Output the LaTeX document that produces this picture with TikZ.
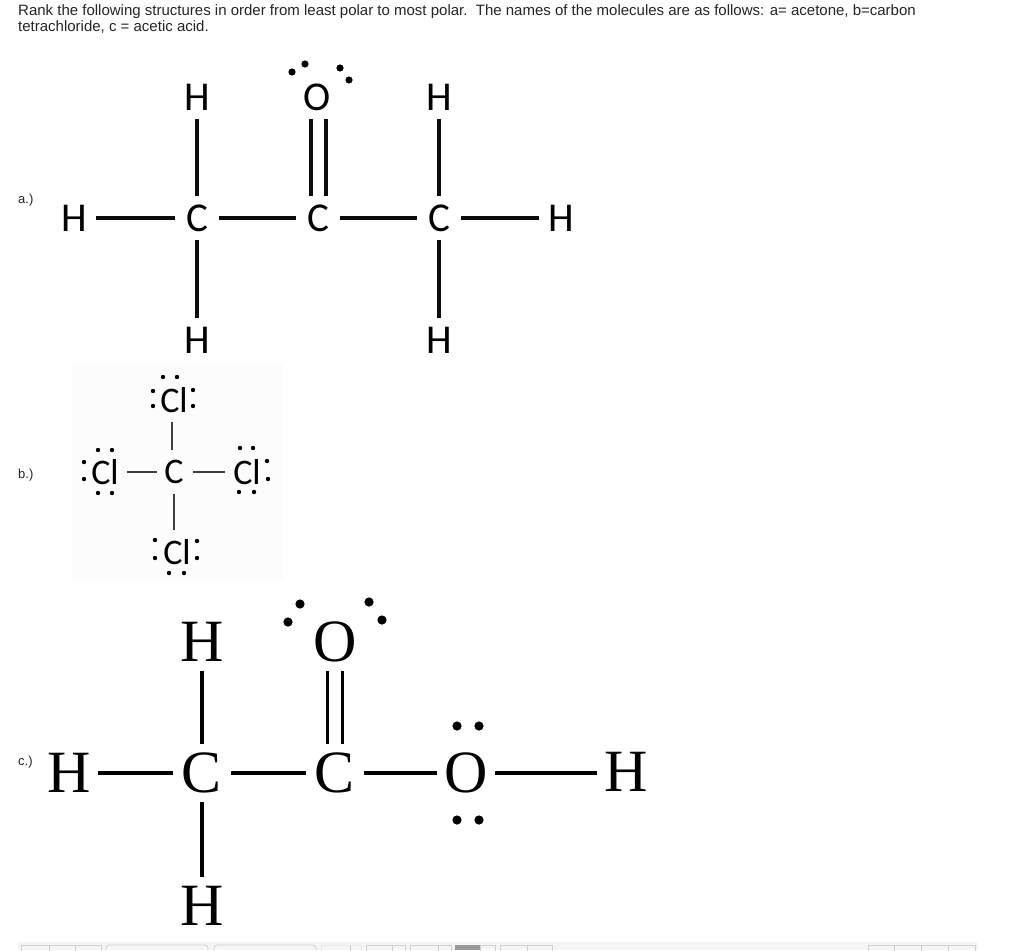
\documentclass[tikz,border=0pt]{standalone}
\usepackage{fontspec}
\setmainfont{Liberation Sans}
\newfontfamily\molA{Carlito}
\newfontfamily\molC{Liberation Serif}
\newcommand{\edot}[3][3.6]{\fill (#2,#3) circle (#1pt);}
\newcommand{\tbtn}[4][]{\draw[tbline,#1] (#2,951) |- (#3,945) -- (#3,951);\foreach \d in {#4}{\draw[tbline] (\d,945) -- (\d,951);}}
\tikzset{
  qtext/.style={anchor=base west,inner sep=0pt,font=\fontsize{15}{17}\selectfont,text=black!85},
  partlabel/.style={anchor=west,inner sep=0pt,font=\fontsize{13}{15}\selectfont,text=black!85},
  atomA/.style={rectangle,minimum size=44pt,inner sep=0pt,font=\molA\fontsize{41}{44}\selectfont},
  atomB/.style={rectangle,minimum size=44pt,inner sep=0pt,font=\molA\fontsize{36}{39}\selectfont},
  atomC/.style={rectangle,minimum size=58pt,inner sep=0pt,font=\molC\fontsize{60}{62}\selectfont},
  bondA/.style={line width=3.6pt,black!95},
  bondB/.style={line width=1.6pt,black!75},
  bondC/.style={line width=3.8pt,black},
  tbline/.style={draw=black!18,line width=0.9pt}
}
\begin{document}
\begin{tikzpicture}[x=1pt,y=-1pt]
\useasboundingbox (0,0) rectangle (1024,950);
\fill[white] (0,0) rectangle (1024,950);
\node[qtext] (q1) at (18,16) {Rank the following structures in order from least polar to most polar.\ \ The names of the molecules are as follows: a= acetone, b=carbon};
\node[qtext] (q2) at (18,32) {tetrachloride, c = acetic acid.};
\node[partlabel] (la) at (18,200) {a.)};
\node[partlabel] (lb) at (18,475) {b.)};
\node[partlabel] (lc) at (18,762) {c.)};
% molecule a
\node[atomA] (ah1) at (197,97) {H};
\node[atomA] (ao) at (317,97) {O};
\node[atomA] (ah2) at (439,97) {H};
\node[atomA] (ahl) at (74,218) {H};
\node[atomA] (ac1) at (197,218) {C};
\node[atomA] (ac2) at (318,218) {C};
\node[atomA] (ac3) at (439,218) {C};
\node[atomA] (ahr) at (561,218) {H};
\node[atomA] (ah3) at (197,340) {H};
\node[atomA] (ah4) at (439,340) {H};
\draw[bondA] (ah1) -- (ac1);
\draw[bondA] (ah2) -- (ac3);
\draw[bondA] (ac1) -- (ah3);
\draw[bondA] (ac3) -- (ah4);
\draw[bondA] (ahl) -- (ac1);
\draw[bondA] (ac1) -- (ac2);
\draw[bondA] (ac2) -- (ac3);
\draw[bondA] (ac3) -- (ahr);
\draw[bondA] ([xshift=-6pt]ao.south) -- ([xshift=-7pt]ac2.north);
\draw[bondA] ([xshift=9pt]ao.south) -- ([xshift=8pt]ac2.north);
\edot{292}{72}\edot{305}{64}\edot{340}{68}\edot{349}{80}
% molecule b
\fill[black!1] (72,365) rectangle (283,580);
\node[atomB] (clt) at (174,400) {Cl};
\node[atomB] (cll) at (105,472) {Cl};
\node[atomB] (cb) at (174,472) {C};
\node[atomB] (clr) at (247,472) {Cl};
\node[atomB] (clb) at (177,552) {Cl};
\draw[bondB] ([xshift=-2pt]clt.south) -- ([xshift=-2pt]cb.north);
\draw[bondB] (cb.south) -- ([xshift=-3pt]clb.north);
\draw[bondB] (cll.east) -- ([xshift=5pt]cb.west);
\draw[bondB] ([xshift=-3pt]cb.east) -- (clr.west);
\foreach \p/\q in {163/377,177/377,153/391,153/406,193/390,193/406,
  98/450,112/450,84/462,84/479,98/493,112/493,
  240/448,253/448,267/461,268/479,239/492,254/492,
  155/540,155/558,197/541,197/558,169/573,184/573}{\edot[2.2]{\p}{\q}}
% molecule c
\node[atomC] (ch1) at (202,642) {H};
\node[atomC] (co1) at (335,642) {O};
\node[atomC] (chl) at (69,773) {H};
\node[atomC] (cc1) at (202,773) {C};
\node[atomC] (cc2) at (335,773) {C};
\node[atomC] (co2) at (466,773) {O};
\node[atomC] (chr) at (626,773) {\raisebox{3pt}{H}};
\node[atomC] (ch2) at (202,906) {H};
\draw[bondC] (ch1) -- (cc1);
\draw[bondC] (cc1) -- (ch2);
\draw[bondC] (chl) -- (cc1);
\draw[bondC] (cc1) -- (cc2);
\draw[bondC] (cc2) -- (co2);
\draw[bondC] (co2) -- (chr);
\draw[bondC] ([xshift=-7.5pt]co1.south) -- ([xshift=-7.5pt]cc2.north);
\draw[bondC] ([xshift=7.5pt]co1.south) -- ([xshift=7.5pt]cc2.north);
\edot[4.6]{288}{622}\edot[4.6]{300}{604}\edot[4.6]{369}{602}\edot[4.6]{382}{620}
\edot[4.6]{457}{726}\edot[4.6]{479}{726}\edot[4.6]{457}{820}\edot[4.6]{479}{820}
% toolbar strip
\fill[black!4] (18,942) rectangle (978,950);
\tbtn{21}{101}{49,75}
\draw[tbline,rounded corners=3pt] (106,951) -- (106,945) -- (208,945) -- (208,951);
\draw[tbline,rounded corners=3pt] (214,951) -- (214,945) -- (316,945) -- (316,951);
\tbtn[draw=black!8]{321}{361}{350}
\tbtn{366}{405}{392}
\tbtn{410}{451}{438}
\fill[black!40] (455,945) rectangle (480,950);
\tbtn{480}{495}{}
\tbtn{500}{552}{527}
\tbtn{868}{975}{894,921,948}
\end{tikzpicture}
\end{document}
